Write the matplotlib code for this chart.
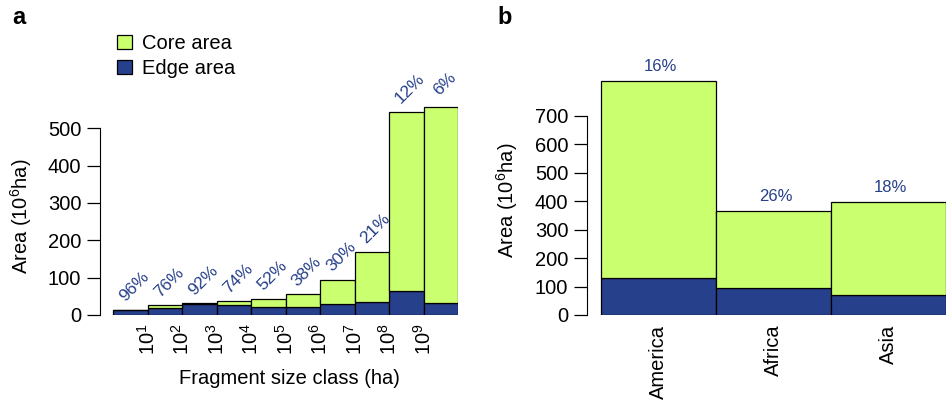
import matplotlib
matplotlib.use("Agg")
import matplotlib.pyplot as plt
from matplotlib.patches import Patch
import numpy as np

plt.rcParams['font.family'] = ['Liberation Sans', 'DejaVu Sans']
plt.rcParams['mathtext.fontset'] = 'custom'
plt.rcParams['mathtext.rm'] = 'Liberation Sans'
plt.rcParams['mathtext.it'] = 'Liberation Sans:italic'

# panel a: fragment size classes (10^6 ha)
size_labels = ['$10^{%d}$' % i for i in range(1, 10)]
total_a = [14, 26, 31, 37, 43, 56, 95, 170, 545, 557]
edge_a = [13.5, 20, 28.5, 27, 22.4, 21.3, 28.5, 35, 64, 32]
pct_a = ['96%', '76%', '92%', '74%', '52%', '38%', '30%', '21%', '12%', '6%']

# panel b: continents
regions = ['America', 'Africa', 'Asia']
total_b = [821, 365, 396]
edge_b = [131, 95, 70]
pct_b = ['16%', '26%', '18%']

core_col = '#CAFF70'
edge_col = '#27408B'
fs = 14.5

W, H = 946, 403
fig = plt.figure(figsize=(W / 100, H / 100), dpi=100)

def fx(px):
    return px / W

def fy(py):
    return 1 - py / H

# ---- panel a ----
axa = fig.add_axes([fx(100), fy(315), fx(358), 224 / H])
n = len(total_a)
x = np.arange(n)
core_a = np.array(total_a) - np.array(edge_a)
axa.bar(x, edge_a, width=1, align='edge', color=edge_col, edgecolor='black', linewidth=0.9)
axa.bar(x, core_a, bottom=edge_a, width=1, align='edge', color=core_col, edgecolor='black', linewidth=0.9)
axa.set_xlim(-0.377, n)
axa.set_ylim(0, 600)
axa.set_yticks(range(0, 501, 100))
axa.spines['left'].set_bounds(0, 500)
for s in ['top', 'right', 'bottom']:
    axa.spines[s].set_visible(False)
axa.set_xticks(np.arange(1, n))
axa.set_xticklabels(size_labels, rotation=90, fontsize=fs)
axa.tick_params(axis='x', length=0, pad=6)
axa.tick_params(axis='y', labelsize=fs, length=9.5, width=0.9, pad=4)
for i in range(n):
    axa.annotate(pct_a[i], xy=(i + 0.5, total_a[i]), xytext=(4, 23),
                 textcoords='offset pixels', ha='center', va='center',
                 rotation=45, rotation_mode='anchor', fontsize=12.5,
                 color=edge_col, annotation_clip=False)

fig.text(fx(21), fy(216), 'Area (10$^6$ha)', rotation=90, ha='center', va='center', fontsize=fs)
fig.text(fx(289), fy(378), 'Fragment size class (ha)', ha='center', va='center', fontsize=fs)
fig.text(fx(12), fy(18), 'a', ha='left', va='center', fontsize=17, fontweight='bold')

leg = fig.legend(handles=[Patch(facecolor=core_col, edgecolor='black', linewidth=0.9, label='Core area'),
                          Patch(facecolor=edge_col, edgecolor='black', linewidth=0.9, label='Edge area')],
                 loc='upper left', bbox_to_anchor=(fx(117), fy(34)), frameon=False,
                 fontsize=fs, handlelength=0.75, handleheight=0.75, handletextpad=0.5,
                 labelspacing=0.3, borderaxespad=0, borderpad=0)

# ---- panel b ----
axb = fig.add_axes([fx(587), fy(315), fx(359), 242 / H])
m = len(regions)
xb = np.arange(m)
core_b = np.array(total_b) - np.array(edge_b)
axb.bar(xb, edge_b, width=1, align='edge', color=edge_col, edgecolor='black', linewidth=0.9)
axb.bar(xb, core_b, bottom=edge_b, width=1, align='edge', color=core_col, edgecolor='black', linewidth=0.9)
axb.set_xlim(-0.122, m)
axb.set_ylim(0, 850)
axb.set_yticks(range(0, 701, 100))
axb.spines['left'].set_bounds(0, 700)
for s in ['top', 'right', 'bottom']:
    axb.spines[s].set_visible(False)
axb.set_xticks(xb + 0.5)
axb.set_xticklabels(regions, rotation=90, fontsize=fs)
axb.tick_params(axis='x', length=0, pad=7)
axb.tick_params(axis='y', labelsize=fs, length=9.5, width=0.9, pad=4)
for i in range(m):
    axb.annotate(pct_b[i], xy=(i + 0.5, total_b[i]), xytext=(2, 15),
                 textcoords='offset pixels', ha='center', va='center',
                 fontsize=12, color=edge_col, annotation_clip=False)

fig.text(fx(507), fy(200), 'Area (10$^6$ha)', rotation=90, ha='center', va='center', fontsize=fs)
fig.text(fx(497), fy(18), 'b', ha='left', va='center', fontsize=17, fontweight='bold')

fig.savefig('out.png', dpi=100)
